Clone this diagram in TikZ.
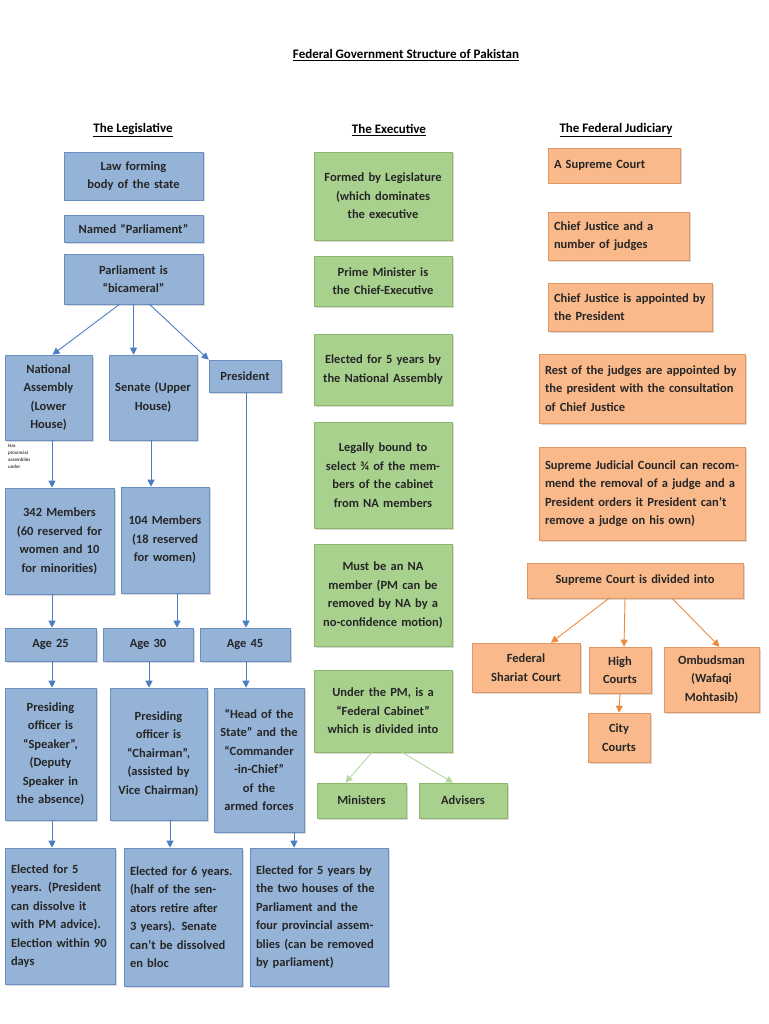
\documentclass[tikz,border=0pt]{standalone}
\usepackage{fontspec}
\setmainfont{Carlito}
\usetikzlibrary{arrows.meta,shadows}
\definecolor{bfill}{HTML}{95B3D7}\definecolor{bdraw}{HTML}{6A8FC2}
\definecolor{gfill}{HTML}{A9D18E}\definecolor{gdraw}{HTML}{8DB86A}
\definecolor{ofill}{HTML}{F9B98A}\definecolor{odraw}{HTML}{E3965E}
\definecolor{barrow}{HTML}{4A7EC4}\definecolor{garrow}{HTML}{B5D99C}\definecolor{oarrow}{HTML}{EE8A3C}
\tikzset{
 box/.style={inner sep=0pt,align=center,font=\fontsize{12.5}{18.5}\selectfont\bfseries,text=black!85,drop shadow={shadow xshift=1.5pt,shadow yshift=-1.5pt,opacity=.3}},
 blue/.style={fill=bfill,draw=bdraw,line width=.6pt},
 green/.style={fill=gfill,draw=gdraw,line width=.6pt},
 orange/.style={fill=ofill,draw=odraw,line width=.6pt},
 left/.style={align=left},
 ba/.style={-{Triangle[width=7pt,length=7pt]},barrow,line width=.9pt},
 ga/.style={-{Triangle[width=7pt,length=7pt]},garrow,line width=.9pt},
 oa/.style={-{Triangle[width=7pt,length=7pt]},oarrow,line width=.9pt},
 head/.style={font=\fontsize{13}{15}\selectfont\bfseries,inner sep=0pt}
}
\newcommand\mybox[7]{\pgfmathsetmacro\bw{#4-#2}\pgfmathsetmacro\bh{#5-#3}\pgfmathsetmacro\tw{#4-#2-12}%
\node[box,#6,minimum width=\bw pt,minimum height=\bh pt,text width=\tw pt] (#1) at ({(#2+#4)/2},{(#3+#5)/2}) {#7};}
\begin{document}
\begin{tikzpicture}[x=1pt,y=-1pt]
\useasboundingbox[fill=white] (0,0) rectangle (768,1024);
\node[head] (title) at (406,55) {\underline{Federal Government Structure of Pakistan}};
\node[head] (hl) at (133,130) {\underline{The Legislative}};
\node[head] (he) at (389,130) {\underline{The Executive}};
\node[head] (hj) at (616,130) {\underline{The Federal Judiciary}};
% legislative
\mybox{law}{64}{152}{203}{200}{blue}{Law forming body of the state}
\mybox{named}{64}{215}{203}{242}{blue}{Named “Parliament”}
\mybox{bicam}{64}{254}{203}{304}{blue}{Parliament is “bicameral”}
\mybox{na}{5}{355}{92}{440}{blue}{National Assembly (Lower House)}
\mybox{sen}{109}{355}{197}{440}{blue}{Senate (Upper House)}
\mybox{pres}{209}{360}{281}{392}{blue}{President}
\mybox{m342}{5}{488}{114}{594}{blue}{342 Members (60 reserved for women and 10 for minorities)}
\mybox{m104}{121}{487}{209}{593}{blue}{104 Members (18 reserved for women)}
\mybox{a25}{5}{628}{96}{661}{blue}{Age 25}
\mybox{a30}{103}{628}{193}{661}{blue}{Age 30}
\mybox{a45}{200}{628}{290}{661}{blue}{Age 45}
\mybox{p1}{5}{688}{96}{820}{blue}{Presiding officer is “Speaker”, (Deputy Speaker in the absence)}
\mybox{p2}{110}{688}{207}{820}{blue}{Presiding officer is “Chairman”, (assisted by Vice Chairman)}
\mybox{hd}{214}{688}{304}{832}{blue}{“Head of the State” and the “Commander -in-Chief” of the armed forces}
\mybox{e1}{5}{848}{115}{984}{blue,left}{Elected for 5 years. (President can dissolve it with PM advice). Election within 90 days}
\mybox{e2}{124}{848}{242}{986}{blue,left}{Elected for 6 years. (half of the senators retire after 3 years). Senate can’t be dissolved en bloc}
\mybox{e3}{250}{848}{388}{986}{blue,left}{Elected for 5 years by the two houses of the Parliament and the four provincial assemblies (can be removed by parliament)}
\node[font=\fontsize{5}{7}\selectfont,align=left,inner sep=0pt,anchor=north west] (has) at (8,444) {Has\\provincial\\assemblies\\under};
% executive
\mybox{formed}{314}{152}{452}{240}{green}{Formed by Legislature (which dominates the executive}
\mybox{pm}{314}{256}{452}{306}{green}{Prime Minister is the Chief-Executive}
\mybox{el5}{314}{334}{452}{405}{green}{Elected for 5 years by the National Assembly}
\mybox{leg}{314}{422}{452}{528}{green}{Legally bound to select ¾ of the members of the cabinet from NA members}
\mybox{must}{314}{544}{452}{646}{green}{Must be an NA member (PM can be removed by NA by a no-confidence motion)}
\mybox{under}{314}{670}{452}{752}{green}{Under the PM, is a “Federal Cabinet” which is divided into}
\mybox{min}{317}{783}{406}{818}{green}{Ministers}
\mybox{adv}{419}{783}{507}{818}{green}{Advisers}
% judiciary
\mybox{sc}{548}{148}{680}{183}{orange,left}{A Supreme Court}
\mybox{cj}{548}{212}{689}{260}{orange,left}{Chief Justice and a number of judges}
\mybox{cja}{548}{283}{712}{331}{orange,left}{Chief Justice is appointed by the President}
\mybox{rest}{539}{354}{745}{423}{orange,left}{Rest of the judges are appointed by the president with the consultation of Chief Justice}
\mybox{sjc}{539}{447}{745}{540}{orange,left}{Supreme Judicial Council can recommend the removal of a judge and a President orders it President can’t remove a judge on his own)}
\mybox{div}{527}{563}{743}{598}{orange}{Supreme Court is divided into}
\mybox{fsc}{472}{643}{580}{692}{orange}{Federal Shariat Court}
\mybox{high}{589}{647}{651}{693}{orange}{High Courts}
\mybox{omb}{664}{647}{759}{712}{orange}{Ombudsman (Wafaqi Mohtasib)}
\mybox{city}{588}{713}{650}{762}{orange}{City Courts}
% arrows
\draw[ba] ([xshift=-14pt]bicam.south) -- ([xshift=4pt]na.north);
\draw[ba] ([xshift=0pt]bicam.south) -- (bicam.south |- sen.north);
\draw[ba] ([xshift=16pt]bicam.south) -- (pres.north west);
\coordinate (c1) at (52,440); \draw[ba] (c1) -- (c1 |- m342.north);
\draw[ba] (sen.south) ++(-2pt,0) coordinate (c2) -- (c2 |- m104.north);
\coordinate (c3) at (246,392); \draw[ba] (c3) -- (c3 |- a45.north);
\coordinate (c4) at (52,594); \draw[ba] (c4) -- (c4 |- a25.north);
\coordinate (c5) at (177,593); \draw[ba] (c5) -- (c5 |- a30.north);
\coordinate (c6) at (52,661); \draw[ba] (c6) -- (c6 |- p1.north);
\coordinate (c7) at (149,661); \draw[ba] (c7) -- (c7 |- p2.north);
\coordinate (c8) at (246,661); \draw[ba] (c8) -- (c8 |- hd.north);
\coordinate (c9) at (52,820); \draw[ba] (c9) -- (c9 |- e1.north);
\coordinate (c10) at (170,820); \draw[ba] (c10) -- (c10 |- e2.north);
\coordinate (c11) at (294,832); \draw[ba] (c11) -- (c11 |- e3.north);
\draw[ga] ([xshift=-11pt]under.south) -- ([xshift=-16pt]min.north);
\draw[ga] ([xshift=19pt]under.south) -- ([xshift=-10pt]adv.north);
\draw[oa] ([xshift=-26pt]div.south) -- ([xshift=25pt]fsc.north);
\draw[oa] ([xshift=-10pt]div.south) -- ([xshift=4pt]high.north);
\draw[oa] ([xshift=37pt]div.south) -- ([xshift=8pt]omb.north);
\draw[oa] ([xshift=0pt]high.south) -- (city.north);
\end{tikzpicture}
\end{document}
